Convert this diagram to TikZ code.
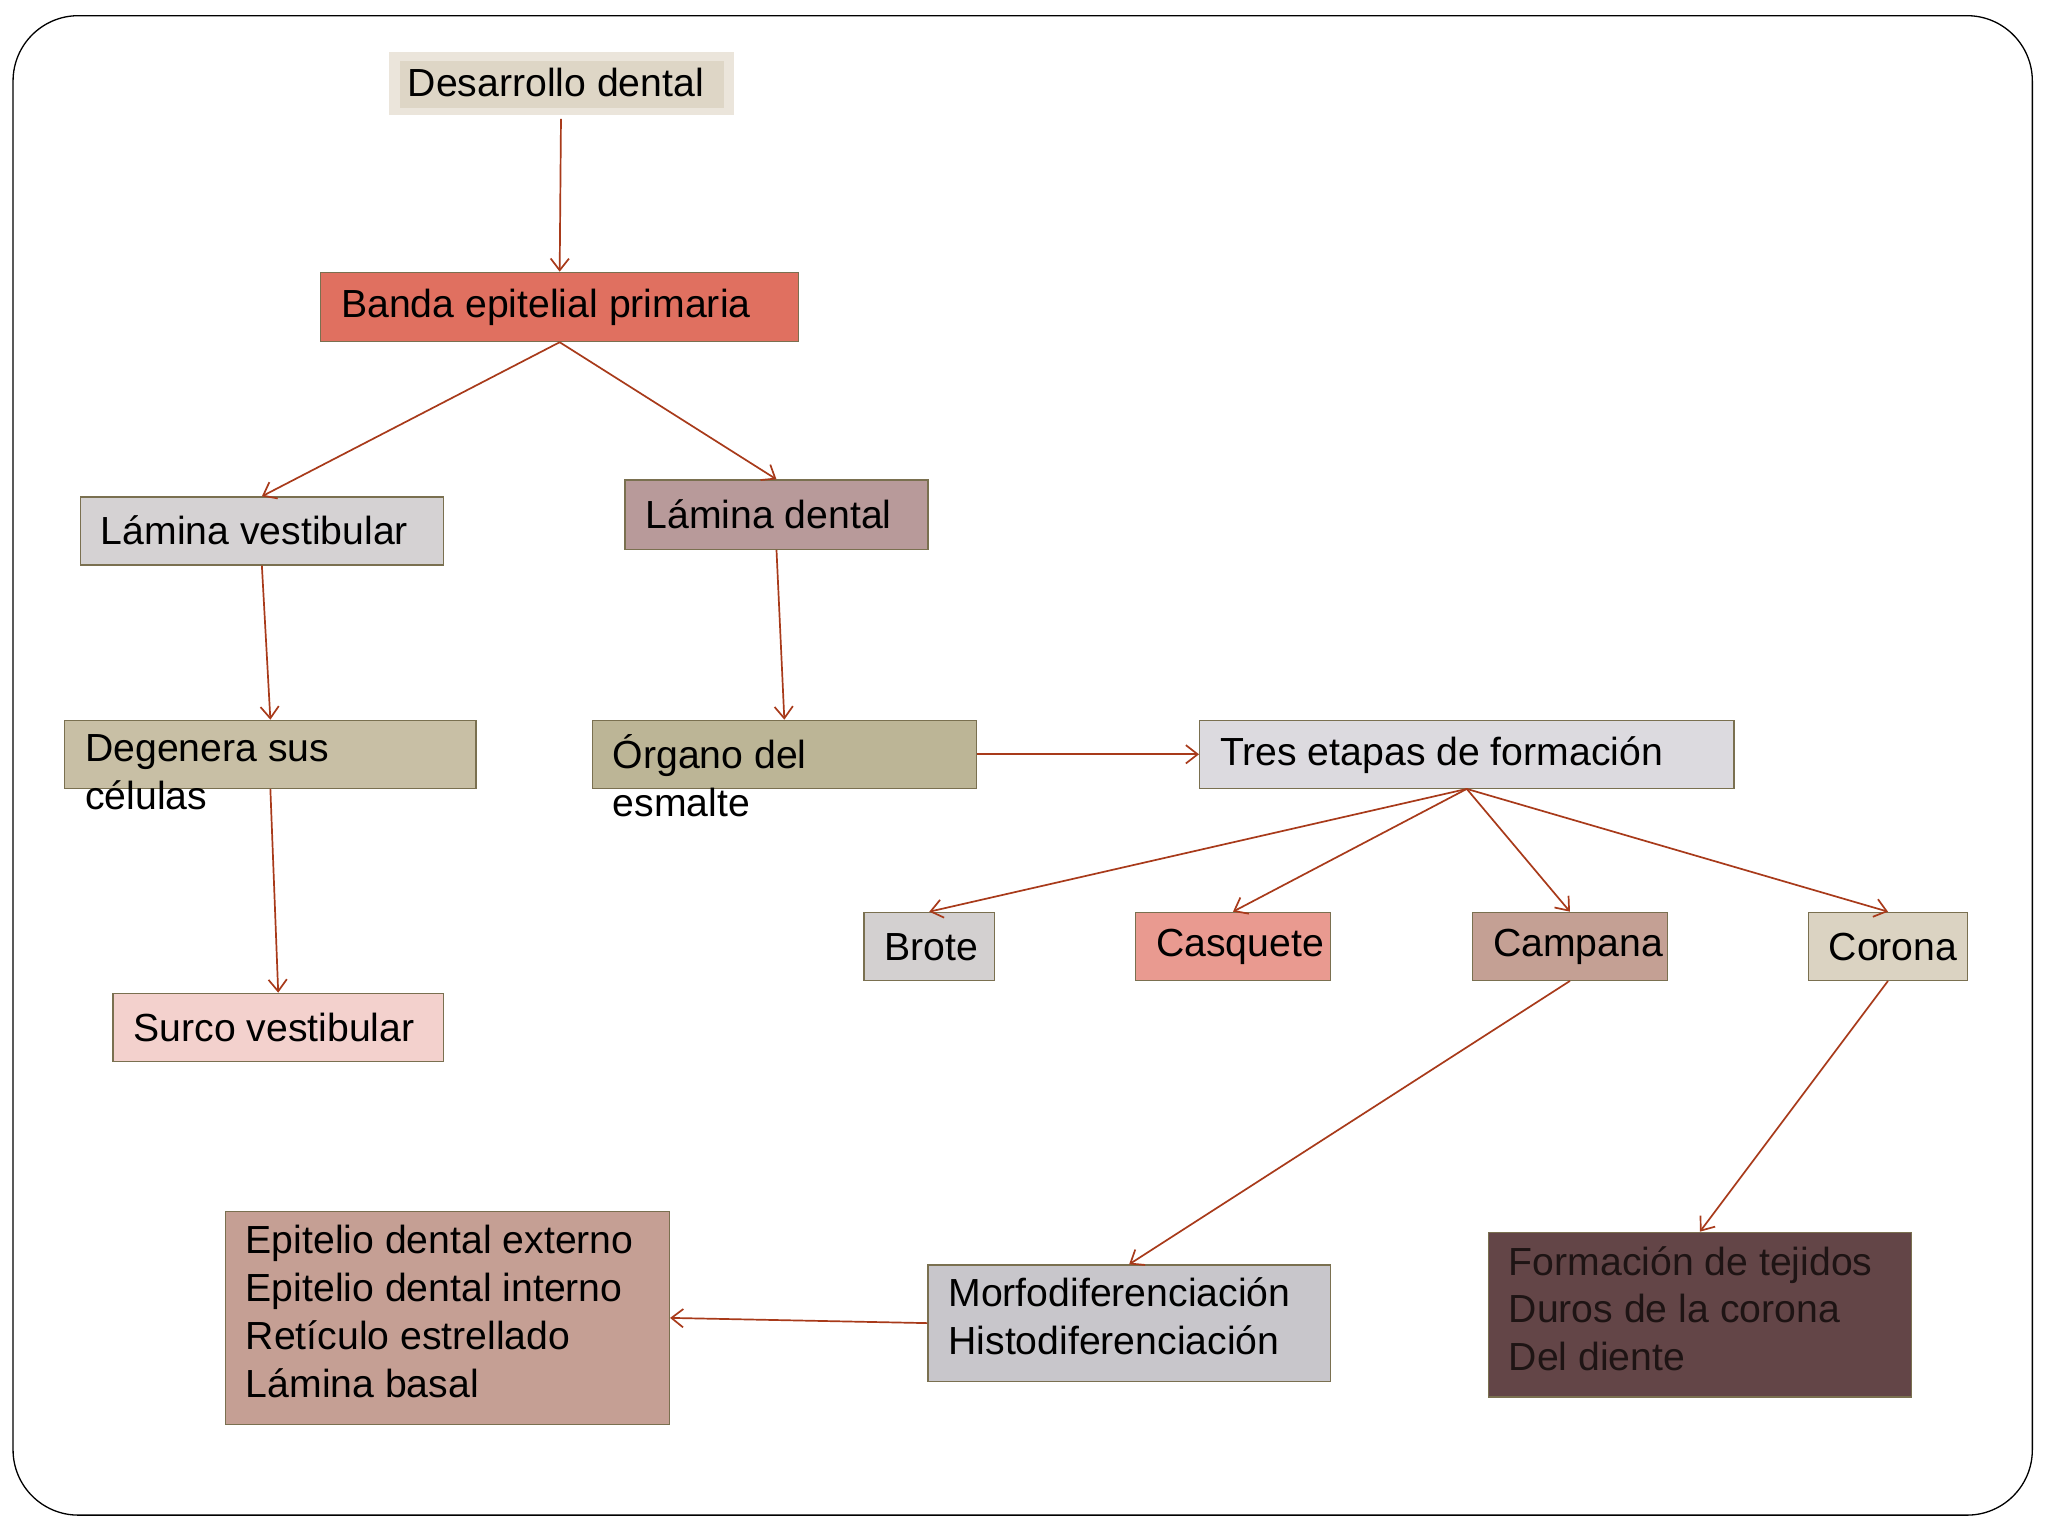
\documentclass[tikz,border=0pt]{standalone}
\usepackage{fontspec}
\setmainfont{Liberation Sans}
\usetikzlibrary{arrows.meta,calc}
\definecolor{arr}{HTML}{A83A1A}
\definecolor{bord}{HTML}{7A7050}
\definecolor{glow}{HTML}{D8CCB8}
\begin{document}
\begin{tikzpicture}[x=1pt,y=-1pt,
  box/.style={draw=bord,line width=1pt,anchor=north west,inner sep=0pt},
  txt/.style={anchor=west,inner sep=0pt,font=\fontsize{30}{36.6}\selectfont,align=left},
  con/.style={draw=arr,line width=1.3pt,-{Straight Barb[length=9pt,width=14pt]}}]
\useasboundingbox (0,0) rectangle (1568,1176);
\fill[white] (0,0) rectangle (1568,1176);
\draw[line width=1pt,rounded corners=50pt] (10,12) rectangle (1556,1160);
% Desarrollo dental
\fill[glow,opacity=0.5] (298,40) rectangle (562,88);
\node[box,draw=none,fill={rgb,255:red,222;green,214;blue,198},minimum width=248pt,minimum height=36pt] (dd) at (306,46) {};
\node[txt] at (312,63) {Desarrollo dental};
\node[box,fill={rgb,255:red,224;green,112;blue,96},minimum width=366pt,minimum height=53pt] (ba) at (245,208) {};
\node[txt] at (261,235) {Banda epitelial primaria};
\node[box,fill={rgb,255:red,213;green,210;blue,211},minimum width=278pt,minimum height=52pt] (lv) at (61,380) {};
\node[txt] at (77,406) {Lámina vestibular};
\node[box,fill={rgb,255:red,184;green,154;blue,154},minimum width=232pt,minimum height=53pt] (ld) at (478,367) {};
\node[txt] at (494,394) {Lámina dental};
\node[box,fill={rgb,255:red,200;green,191;blue,165},minimum width=315pt,minimum height=52pt] (dg) at (49,551) {};
\node[txt,anchor=north west] at (65,562) {Degenera sus\\células};
\node[box,fill={rgb,255:red,188;green,181;blue,150},minimum width=294pt,minimum height=52pt] (or) at (453,551) {};
\node[txt,anchor=north west] at (469,562) {Órgano del\\esmalte};
\node[box,fill={rgb,255:red,220;green,218;blue,223},minimum width=409pt,minimum height=52pt] (te) at (918,551) {};
\node[txt] at (934,578) {Tres etapas de formación};
\node[box,fill={rgb,255:red,211;green,208;blue,208},minimum width=100pt,minimum height=52pt] (br) at (661,698) {};
\node[txt] at (677,725) {Brote};
\node[box,fill={rgb,255:red,233;green,154;blue,144},minimum width=149pt,minimum height=52pt] (ca) at (869,698) {};
\node[txt] at (885,725) {Casquete};
\node[box,fill={rgb,255:red,196;green,160;blue,148},minimum width=149pt,minimum height=52pt] (cp) at (1127,698) {};
\node[txt] at (1143,725) {Campana};
\node[box,fill={rgb,255:red,219;green,211;blue,194},minimum width=122pt,minimum height=52pt] (co) at (1384,698) {};
\node[txt] at (1400,725) {Corona};
\node[box,fill={rgb,255:red,243;green,209;blue,205},minimum width=253pt,minimum height=52pt] (su) at (86,760) {};
\node[txt] at (102,787) {Surco vestibular};
\node[box,fill={rgb,255:red,197;green,159;blue,148},minimum width=340pt,minimum height=163pt] (ep) at (172,927) {};
\node[txt,anchor=north west] at (188,938) {Epitelio dental externo\\Epitelio dental interno\\Retículo estrellado\\Lámina basal};
\node[box,fill={rgb,255:red,200;green,198;blue,203},minimum width=308pt,minimum height=89pt] (mo) at (710,968) {};
\node[txt,anchor=north west] at (726,978) {Morfodiferenciación\\Histodiferenciación};
\node[box,fill={rgb,255:red,99;green,69;blue,71},minimum width=324pt,minimum height=126pt] (fo) at (1139,943) {};
\node[txt,anchor=north west,text={rgb,255:red,30;green,20;blue,20}] at (1155,954) {Formación de tejidos\\Duros de la corona\\Del diente};
% connectors
\draw[con] ($(dd.south)+(-1,8)$) -- (ba.north);
\draw[con] (ba.south) -- (lv.north);
\draw[con] (ba.south) -- (ld.north);
\draw[con] (lv.south) -- (dg.north);
\draw[con] (dg.south) -- (su.north);
\draw[con] (ld.south) -- (or.north);
\draw[con] (or.east) -- (te.west);
\draw[con] (te.south) -- (br.north);
\draw[con] (te.south) -- (ca.north);
\draw[con] (te.south) -- (cp.north);
\draw[con] (te.south) -- (co.north);
\draw[con] (cp.south) -- (mo.north);
\draw[con] (co.south) -- (fo.north);
\draw[con] (mo.west) -- (ep.east);
\end{tikzpicture}
\end{document}
